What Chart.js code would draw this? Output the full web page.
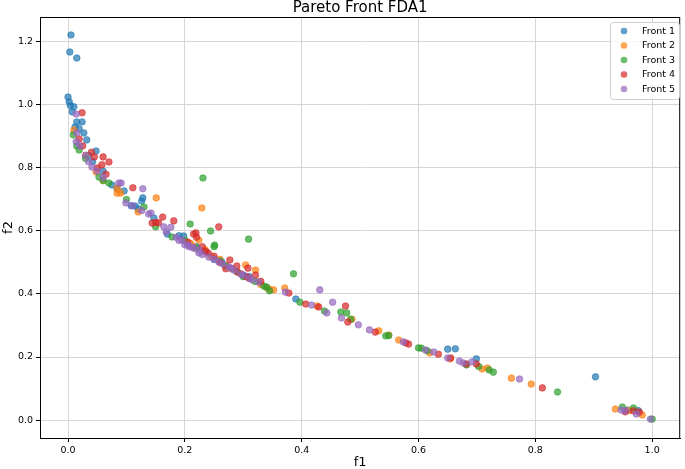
<!DOCTYPE html>
<html>
<head>
<meta charset="utf-8">
<script src="https://cdn.jsdelivr.net/npm/chart.js@4"></script>
<style>
  body { margin: 0; background: #fff; }
  canvas { display: block; }
</style>
</head>
<body>
<canvas id="paretoChart" width="685" height="469"></canvas>
<script>
// values, [f1, f2]
const front1 = [
  [0.005, 1.222], [0.003, 1.168], [0.015, 1.149], [0.0, 1.025], [0.002, 1.01],
  [0.004, 0.998], [0.01, 0.994], [0.007, 0.978], [0.015, 0.946], [0.024, 0.946],
  [0.012, 0.93], [0.019, 0.924], [0.027, 0.911], [0.032, 0.889], [0.048, 0.854],
  [0.035, 0.84], [0.042, 0.82], [0.06, 0.79], [0.075, 0.746], [0.084, 0.733],
  [0.096, 0.727], [0.128, 0.705], [0.126, 0.695], [0.115, 0.679], [0.12, 0.67],
  [0.108, 0.68], [0.147, 0.641], [0.17, 0.59], [0.198, 0.584], [0.19, 0.585],
  [0.22, 0.55], [0.235, 0.535], [0.263, 0.502], [0.25, 0.51], [0.28, 0.48],
  [0.3, 0.46], [0.31, 0.455], [0.39, 0.384],
  [0.65, 0.225], [0.663, 0.226], [0.699, 0.194], [0.903, 0.137], [0.976, 0.03],
  [0.958, 0.032]
];
const front2 = [
  [0.01, 0.92], [0.03, 0.84], [0.048, 0.787], [0.06, 0.76], [0.084, 0.736],
  [0.084, 0.72], [0.09, 0.72], [0.12, 0.66], [0.151, 0.705], [0.229, 0.673],
  [0.224, 0.571], [0.21, 0.56], [0.215, 0.55], [0.235, 0.54], [0.245, 0.52],
  [0.26, 0.51], [0.27, 0.49], [0.28, 0.48], [0.295, 0.465],
  [0.304, 0.492], [0.321, 0.476], [0.33, 0.43], [0.34, 0.42], [0.345, 0.415],
  [0.352, 0.413], [0.371, 0.419],
  [0.426, 0.362], [0.486, 0.32], [0.532, 0.283], [0.549, 0.27], [0.566, 0.254],
  [0.619, 0.213], [0.654, 0.194], [0.709, 0.162], [0.718, 0.165], [0.759, 0.133],
  [0.793, 0.114], [0.937, 0.035], [0.96, 0.03], [0.983, 0.016]
];
const front3 = [
  [0.009, 0.905], [0.015, 0.87], [0.019, 0.857], [0.03, 0.83], [0.053, 0.771],
  [0.06, 0.76], [0.07, 0.752], [0.1, 0.7], [0.13, 0.676], [0.15, 0.613],
  [0.178, 0.581], [0.209, 0.622], [0.244, 0.6], [0.25, 0.55], [0.251, 0.555],
  [0.231, 0.768], [0.309, 0.574], [0.2, 0.57], [0.22, 0.545], [0.26, 0.505],
  [0.27, 0.49], [0.29, 0.47], [0.3, 0.455], [0.32, 0.44], [0.335, 0.425],
  [0.34, 0.422], [0.345, 0.41],
  [0.386, 0.464], [0.397, 0.374], [0.439, 0.346], [0.467, 0.343], [0.477, 0.34],
  [0.484, 0.32], [0.544, 0.267], [0.549, 0.268], [0.6, 0.229], [0.605, 0.228],
  [0.615, 0.22], [0.682, 0.175], [0.703, 0.17], [0.721, 0.159], [0.728, 0.152],
  [0.838, 0.089], [0.949, 0.041], [0.968, 0.038], [1.0, 0.003]
];
const front4 = [
  [0.024, 0.975], [0.019, 0.892], [0.025, 0.87], [0.04, 0.85], [0.045, 0.835],
  [0.06, 0.835], [0.07, 0.819], [0.058, 0.81], [0.05, 0.8], [0.065, 0.78],
  [0.111, 0.737], [0.144, 0.625], [0.15, 0.627], [0.155, 0.626], [0.162, 0.644],
  [0.181, 0.632], [0.258, 0.613], [0.219, 0.594], [0.22, 0.58], [0.215, 0.59],
  [0.205, 0.565], [0.23, 0.55], [0.235, 0.535], [0.24, 0.53], [0.25, 0.52],
  [0.26, 0.5], [0.27, 0.48], [0.277, 0.508], [0.289, 0.489], [0.29, 0.47],
  [0.305, 0.455], [0.308, 0.482], [0.31, 0.45], [0.321, 0.46], [0.33, 0.44],
  [0.378, 0.403], [0.407, 0.368],
  [0.429, 0.359], [0.475, 0.362], [0.479, 0.311], [0.526, 0.279], [0.578, 0.245],
  [0.583, 0.241], [0.634, 0.209], [0.655, 0.197], [0.682, 0.178], [0.699, 0.178],
  [0.812, 0.102], [0.954, 0.026], [0.968, 0.029], [0.978, 0.025]
];
const front5 = [
  [0.014, 0.971], [0.015, 0.911], [0.014, 0.883], [0.02, 0.87], [0.03, 0.84],
  [0.035, 0.82], [0.041, 0.803], [0.05, 0.79], [0.06, 0.77], [0.087, 0.752],
  [0.091, 0.752], [0.128, 0.734], [0.099, 0.689], [0.11, 0.68], [0.126, 0.665],
  [0.138, 0.654], [0.142, 0.657], [0.164, 0.613], [0.176, 0.612], [0.168, 0.597],
  [0.185, 0.58], [0.19, 0.57], [0.195, 0.571], [0.2, 0.556], [0.205, 0.555],
  [0.207, 0.55], [0.212, 0.549], [0.215, 0.545], [0.224, 0.54], [0.224, 0.53],
  [0.23, 0.525], [0.241, 0.517], [0.25, 0.51], [0.258, 0.502], [0.265, 0.495],
  [0.275, 0.486], [0.279, 0.482], [0.285, 0.475], [0.296, 0.463], [0.3, 0.46],
  [0.31, 0.45], [0.315, 0.445],
  [0.326, 0.438], [0.372, 0.406], [0.417, 0.365], [0.431, 0.413], [0.453, 0.374],
  [0.443, 0.34], [0.468, 0.324], [0.497, 0.302], [0.516, 0.286], [0.574, 0.248],
  [0.612, 0.222], [0.626, 0.216], [0.65, 0.197], [0.67, 0.187], [0.677, 0.181],
  [0.691, 0.184], [0.773, 0.13], [0.947, 0.032], [0.954, 0.029], [0.973, 0.019],
  [0.997, 0.003]
];

const frontNames = ["Front 1", "Front 2", "Front 3", "Front 4", "Front 5"];
const frontColors = ["31,119,180", "255,127,14", "44,160,44", "214,39,40", "148,103,189"];
const xTicks = [0.0, 0.2, 0.4, 0.6, 0.8, 1.0];
const yTicks = [0.0, 0.2, 0.4, 0.6, 0.8, 1.0, 1.2];

const font = '"DejaVu Sans", sans-serif';

const datasets = [front1, front2, front3, front4, front5].map((pts, i) => ({
  label: frontNames[i],
  data: pts.map(([x, y]) => ({ x, y })),
  backgroundColor: `rgba(${frontColors[i]},0.7)`,
  borderColor: `rgba(${frontColors[i]},0.7)`,
  borderWidth: 0.8,
  pointRadius: 3.3,
  order: 4 - i,
}));

// top/right spines, title centred over the axes, and the boxed legend
const decorations = {
  id: "decorations",
  afterDraw(chart) {
    const { ctx, chartArea: a } = chart;
    ctx.save();
    ctx.strokeStyle = "#000";
    ctx.lineWidth = 1;
    ctx.strokeRect(a.left + 0.5, a.top + 0.5, a.right - a.left - 1, a.bottom - a.top);

    ctx.fillStyle = "#000";
    ctx.font = "15px " + font;
    ctx.textAlign = "center";
    ctx.textBaseline = "alphabetic";
    ctx.fillText("Pareto Front FDA1", (a.left + a.right) / 2, 12);

    // legend box
    const bx = 610.5, by = 22.5, bw = 69, bh = 77;
    ctx.beginPath();
    ctx.roundRect(bx, by, bw, bh, 3);
    ctx.fillStyle = "rgba(255,255,255,0.8)";
    ctx.fill();
    ctx.strokeStyle = "#cccccc";
    ctx.stroke();
    ctx.font = "9.5px " + font;
    ctx.textAlign = "left";
    ctx.textBaseline = "middle";
    frontNames.forEach((name, i) => {
      const cy = 31 + i * 14.5;
      ctx.beginPath();
      ctx.arc(624, cy, 3.3, 0, Math.PI * 2);
      ctx.fillStyle = `rgba(${frontColors[i]},0.7)`;
      ctx.fill();
      ctx.fillStyle = "#000";
      ctx.fillText(name, 642, cy + 0.5);
    });
    ctx.restore();
  },
};

const axisCommon = {
  type: "linear",
  grid: { color: "#d6d6d6", lineWidth: 1, tickColor: "#000", tickLength: 4 },
  border: { display: true, color: "#000", width: 1 },
  ticks: {
    color: "#000",
    padding: 3,
    font: { family: font, size: 9.5 },
    callback: (v) => Number(v).toFixed(1),
  },
};

new Chart(document.getElementById("paretoChart"), {
  type: "scatter",
  data: { datasets },
  options: {
    responsive: false,
    animation: false,
    layout: { padding: { top: 17, right: 1, left: 0, bottom: 0 } },
    plugins: {
      legend: { display: false },
      title: { display: false },
      tooltip: { enabled: false },
    },
    scales: {
      x: {
        ...axisCommon,
        min: -0.048,
        max: 1.048,
        afterBuildTicks: (s) => { s.ticks = xTicks.map((v) => ({ value: v })); },
        afterFit: (s) => { s.height = 31; },
        title: {
          display: true, text: "f1", color: "#000", padding: 0,
          font: { family: font, size: 13, lineHeight: 1 },
        },
      },
      y: {
        ...axisCommon,
        min: -0.057,
        max: 1.279,
        afterBuildTicks: (s) => { s.ticks = yTicks.map((v) => ({ value: v })); },
        afterFit: (s) => { s.width = 40; },
        title: {
          display: true, text: "f2", color: "#000", padding: { top: 2, bottom: 0 },
          font: { family: font, size: 13, lineHeight: 1 },
        },
      },
    },
  },
  plugins: [decorations],
});
</script>
</body>
</html>
